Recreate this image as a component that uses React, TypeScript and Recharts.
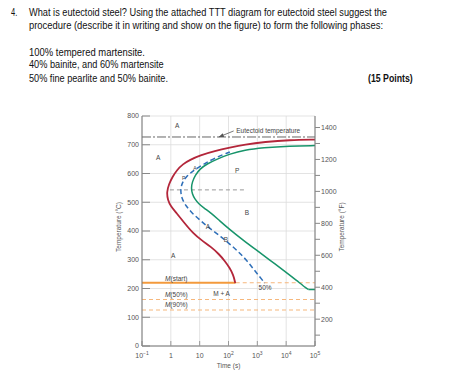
import React from 'react';
import {
  ComposedChart,
  Line,
  XAxis,
  YAxis,
  CartesianGrid,
  ReferenceLine,
  ReferenceDot,
} from 'recharts';

// ---------- data ----------
const timeTicks = [0.1, 1, 10, 100, 1000, 10000, 100000];
const celsiusTicks = [0, 100, 200, 300, 400, 500, 600, 700, 800];
const fahrenheitTicks = [100, 200, 300, 400, 500, 600, 700, 800, 900, 1000, 1100, 1200, 1300, 1400];

// transformation start curve (red) [time s, temperature °C]
const startCurve: [number, number][] = [
  [100000, 718], [13200, 716.5], [1800, 710], [366, 701], [111, 690], [33.6, 678],
  [10.2, 663], [4.58, 647], [2.62, 633], [1.62, 612], [1.135, 588], [0.86, 563],
  [0.72, 536], [0.78, 508], [1.01, 485], [1.56, 463], [2.96, 428], [5.8, 393],
  [11.9, 367], [25.4, 344], [46.2, 320], [74.5, 296], [111, 271], [147, 247], [172, 219],
];
// transformation completion curve (green)
const finishCurve: [number, number][] = [
  [100000, 697], [13200, 696], [1540, 690], [366, 682], [111, 668], [39.4, 650],
  [17.7, 633], [10.2, 616], [7.1, 595], [5.5, 570], [5.1, 550], [5.5, 529],
  [6.8, 511], [9.0, 496], [14.0, 480], [25.4, 462], [50, 435], [111, 405],
  [313, 369], [916, 334], [2690, 299], [8190, 263], [23000, 228], [51200, 200], [60100, 196.5],
];
const finishTail: [number, number][] = [[60100, 196.5], [100000, 196.5]];
// 50% completion curve (blue dashed)
const halfCurve: [number, number][] = [
  [111, 675], [33.6, 654], [12.9, 631], [5.8, 609], [3.33, 588], [2.45, 567],
  [2.15, 543], [2.35, 515], [3.33, 487], [5.37, 463], [10.2, 438], [19.2, 414],
  [38.5, 392], [74.5, 369], [144, 345], [246, 323], [420, 299], [693, 271],
  [1117, 245], [1800, 219],
];
const mStartSolid: [number, number][] = [[0.1, 220], [178, 220]];
const mStartDashed: [number, number][] = [[178, 220], [100000, 220]];
const m50: [number, number][] = [[0.1, 162], [100000, 162]];
const m90: [number, number][] = [[0.1, 125], [100000, 125]];
const noseLine: [number, number][] = [[0.93, 543], [363, 543]];
const eutectoidTemp = 727;
const eutectoidArrow: [number, number][] = [[151, 748], [46, 727]];

// region / curve labels [time, temperature, text]
const regionLabels: [number, number, string][] = [
  [1.66, 765, 'A'],
  [0.366, 656, 'A'],
  [200, 609, 'P'],
  [437, 465, 'B'],
  [1.21, 315, 'A'],
  [19.5, 415, 'A'],
  [81, 369, 'B'],
  [57.5, 183, 'M + A'],
  [1860, 202, '50%'],
];
const smallCurveLabels: [number, number, string][] = [
  [2.8, 584, 'P'],
  [6.8, 617, 'A'],
];
const martensiteLabels: [number, number, string][] = [
  [1.55, 233, '(start)'],
  [1.55, 177, '(50%)'],
  [1.55, 143, '(90%)'],
];
const eutectoidLabel: [number, number, string] = [186, 749, 'Eutectoid temperature'];

const questionNumber = '4.';
const questionLines = [
  'What is eutectoid steel? Using the attached TTT diagram for eutectoid steel suggest the',
  'procedure (describe it in writing and show on the figure) to form the following phases:',
];
const phaseLines = [
  '100% tempered martensite.',
  '40% bainite, and 60% martensite',
  '50% fine pearlite and 50% bainite.',
];
const pointsText = '(15 Points)';

// ---------- helpers ----------
const toRows = (arr: [number, number][]) => arr.map(([t, T]) => ({ t, T }));

const FONT = '"Liberation Sans", Arial, sans-serif';
const QFONT = '"Liberation Sans", Arial, sans-serif';

const TimeTick = (props: any) => {
  const { x, y, payload } = props;
  const e = Math.round(Math.log10(payload.value));
  return (
    <text x={x} y={y} dy={5} textAnchor="middle" fontSize={7} fill="#555" fontFamily={FONT}>
      {e === 0 ? '1' : e === 1 ? '10' : (
        <>
          10
          <tspan dy={-3} fontSize={5}>{e === -1 ? '−1' : String(e)}</tspan>
        </>
      )}
    </text>
  );
};

const textShape = (text: string, size = 6.5, anchor: 'middle' | 'start' = 'middle') => (p: any) => (
  <text x={p.cx} y={p.cy} dy="0.35em" textAnchor={anchor} fontSize={size} fill="#444" fontFamily={FONT}>
    {text}
  </text>
);

const mShape = (suffix: string) => (p: any) => (
  <text x={p.cx} y={p.cy} dy="0.35em" textAnchor="middle" fontSize={6.5} fill="#444" fontFamily={FONT}>
    <tspan fontStyle="italic">M</tspan>
    {suffix}
  </text>
);

const arrowDot = (p: any) =>
  p.index === 1 ? (
    <polygon
      key={`arr-${p.index}`}
      points="0,0 5,-2 5,2"
      fill="#555"
      transform={`translate(${p.cx},${p.cy}) rotate(-22)`}
    />
  ) : (
    <g key={`arr-${p.index}`} />
  );

const rotatedLabel = (text: string, dxFromLeft: number) => (p: any) => {
  const vb = p.viewBox;
  const cx = vb.x + dxFromLeft;
  const cy = vb.y + vb.height / 2 - 4;
  return (
    <text
      x={cx}
      y={cy}
      textAnchor="middle"
      fontSize={6.5}
      fill="#555"
      fontFamily={FONT}
      transform={`rotate(-90 ${cx} ${cy})`}
    >
      {text}
    </text>
  );
};

export default function App() {
  const qTop = [16, 29.3];
  const qWidths = [358, 354];
  const pTop = [55.7, 68, 81.5];
  const pWidths = [116, 134.7, 139];

  return (
    <div style={{ position: 'absolute', left: 0, top: 0, width: 474, height: 377, background: '#fff' }}>
      <div style={{ position: 'absolute', left: 0, top: 0 }}>
        <ComposedChart
          width={474}
          height={377}
          margin={{ top: 116, right: 129, bottom: 7, left: 112 }}
        >
          <CartesianGrid stroke="#dcdcdc" strokeWidth={0.8} />
          <XAxis
            dataKey="t"
            type="number"
            scale="log"
            domain={[0.1, 100000]}
            allowDataOverflow
            ticks={timeTicks}
            interval={0}
            height={24}
            tickSize={-5}
            tickMargin={12}
            tick={<TimeTick />}
            axisLine={{ stroke: '#777' }}
            tickLine={{ stroke: '#999' }}
            label={{
              value: 'Time (s)',
              position: 'insideBottom',
              offset: 2,
              fontSize: 6.5,
              fill: '#555',
              fontFamily: FONT,
            }}
          />
          <YAxis
            type="number"
            domain={[0, 800]}
            allowDataOverflow
            ticks={celsiusTicks}
            interval={0}
            width={30}
            tickSize={-8}
            tickMargin={11}
            tick={{ fontSize: 7, fill: '#555', fontFamily: FONT }}
            axisLine={{ stroke: '#777' }}
            tickLine={{ stroke: '#888' }}
            label={{ content: rotatedLabel('Temperature (°C)', 8.5) }}
          />
          <YAxis
            yAxisId="f"
            orientation="right"
            type="number"
            domain={[32, 1472]}
            allowDataOverflow
            ticks={fahrenheitTicks}
            interval={0}
            width={30}
            tickSize={5}
            tickMargin={1}
            tickFormatter={(v: number) => (v % 200 === 0 ? String(v) : '')}
            tick={{ fontSize: 7, fill: '#555', fontFamily: FONT, textAnchor: 'start' }}
            axisLine={{ stroke: '#777' }}
            tickLine={{ stroke: '#888' }}
            label={{ content: rotatedLabel('Temperature (°F)', 29) }}
          />

          <ReferenceLine
            y={eutectoidTemp}
            stroke="#555"
            strokeWidth={0.9}
            strokeDasharray="9 2 2 2"
          />

          <Line data={toRows(m90)} dataKey="T" type="linear" stroke="#f6b77c" strokeWidth={1.1} strokeDasharray="4 3" dot={false} isAnimationActive={false} />
          <Line data={toRows(m50)} dataKey="T" type="linear" stroke="#f6b77c" strokeWidth={1.1} strokeDasharray="4 3" dot={false} isAnimationActive={false} />
          <Line data={toRows(mStartDashed)} dataKey="T" type="linear" stroke="#f6b77c" strokeWidth={1.1} strokeDasharray="4 3" dot={false} isAnimationActive={false} />
          <Line data={toRows(mStartSolid)} dataKey="T" type="linear" stroke="#f39a3c" strokeWidth={2} dot={false} isAnimationActive={false} />

          <Line data={toRows(noseLine)} dataKey="T" type="linear" stroke="#999" strokeWidth={1} strokeDasharray="4 3" dot={false} isAnimationActive={false} />

          <Line data={toRows(finishCurve)} dataKey="T" type="basis" stroke="#17946a" strokeWidth={1.5} dot={false} isAnimationActive={false} />
          <Line data={toRows(finishTail)} dataKey="T" type="linear" stroke="#17946a" strokeWidth={1.5} dot={false} isAnimationActive={false} />
          <Line data={toRows(halfCurve)} dataKey="T" type="basis" stroke="#2e6fb8" strokeWidth={1.5} strokeDasharray="5 3" dot={false} isAnimationActive={false} />
          <Line data={toRows(startCurve)} dataKey="T" type="basis" stroke="#b3263a" strokeWidth={1.8} dot={false} isAnimationActive={false} />

          <Line data={toRows(eutectoidArrow)} dataKey="T" type="linear" stroke="#555" strokeWidth={0.8} dot={arrowDot} isAnimationActive={false} />

          {regionLabels.map(([t, T, s], i) => (
            <ReferenceDot key={`r${i}`} x={t} y={T} r={0} shape={textShape(s)} />
          ))}
          {smallCurveLabels.map(([t, T, s], i) => (
            <ReferenceDot key={`s${i}`} x={t} y={T} r={0} shape={textShape(s, 5)} />
          ))}
          {martensiteLabels.map(([t, T, s], i) => (
            <ReferenceDot key={`m${i}`} x={t} y={T} r={0} shape={mShape(s)} />
          ))}
          <ReferenceDot
            x={eutectoidLabel[0]}
            y={eutectoidLabel[1]}
            r={0}
            shape={textShape(eutectoidLabel[2], 6.5, 'start')}
          />
        </ComposedChart>
      </div>
      <svg style={{ position: 'absolute', left: 0, top: 0 }} width={474} height={100}>
        <g fontFamily={QFONT} fontSize={10} fill="#111">
          <text x={11} y={qTop[0]} textLength={6.3} lengthAdjust="spacingAndGlyphs">{questionNumber}</text>
          {questionLines.map((s, i) => (
            <text key={`q${i}`} x={29} y={qTop[i]} textLength={qWidths[i]} lengthAdjust="spacingAndGlyphs">{s}</text>
          ))}
          {phaseLines.map((s, i) => (
            <text key={`p${i}`} x={29} y={pTop[i]} textLength={pWidths[i]} lengthAdjust="spacingAndGlyphs">{s}</text>
          ))}
          <text x={368} y={pTop[2]} fontWeight="bold" textLength={44.7} lengthAdjust="spacingAndGlyphs">{pointsText}</text>
        </g>
      </svg>
    </div>
  );
}
